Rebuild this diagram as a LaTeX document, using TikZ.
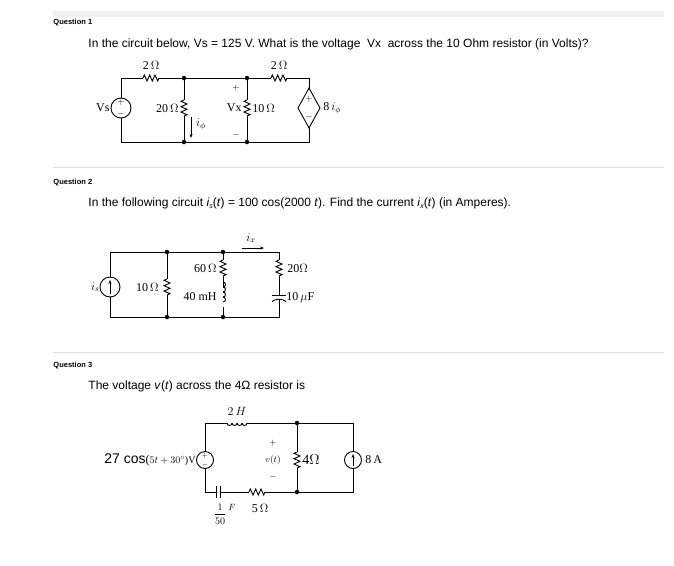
\documentclass[tikz,border=0pt]{standalone}
\usepackage{fontspec}
\setmainfont{Liberation Serif}
\newfontfamily\arial{Liberation Sans}
\usetikzlibrary{arrows.meta}
\begin{document}
\begin{tikzpicture}[x=1pt,y=-1pt,line width=0.9pt,
  rh/.pic={\draw (-8,0)--(-6.7,-3)--(-4,3)--(-1.3,-3)--(1.3,3)--(4,-3)--(6.7,3)--(8,0);},
  rv/.pic={\draw (0,-8)--(-3,-6.7)--(3,-4)--(-3,-1.3)--(3,1.3)--(-3,4)--(3,6.7)--(0,8);},
  dot/.style={circle,fill,inner sep=0pt,minimum size=4.5pt},
  lab/.style={font=\fontsize{12}{14}\selectfont,inner sep=1pt},
  sm/.style={font=\fontsize{9}{10}\selectfont,inner sep=0pt},
  qh/.style={font=\arial\bfseries\fontsize{7.5}{8}\selectfont,anchor=west,inner sep=0pt},
  qt/.style={font=\arial\fontsize{12}{14}\selectfont,anchor=west,inner sep=0pt},
  sep/.style={draw=black!12,line width=1pt}]
\useasboundingbox (0,0) rectangle (674,565);
\fill[black!6] (53,11) rectangle (664,17);
\node[qh] (h1) at (53,23) {Question 1};
\node[qt] (t1) at (88,44) {In the circuit below, Vs = 125 V. What is the voltage\ \ Vx\ \ across the 10 Ohm resistor (in Volts)?};
% Q1 circuit
\draw (121,98)--(121,78)--(143,78);
\pic at (151,78){rh};
\draw (159,78)--(271,78); \pic at (279,78){rh}; \draw (287,78)--(309,78)--(309,88);
\draw (121,118)--(121,142)--(309,142)--(309,128);
\draw (121,108) circle (10);
\node[sm] at (121,102) {$+$}; \node[sm] at (121,114) {$-$};
\draw (184,78)--(184,100); \pic at (184,108){rv}; \draw (184,116)--(184,142);
\draw (247,78)--(247,100); \pic at (247,108){rv}; \draw (247,116)--(247,142);
\draw (309,88)--(320,108)--(309,128)--(298,108)--cycle;
\node[sm] at (309,99) {$+$}; \node[sm] at (309,117) {$-$};
\foreach \p in {(184,78),(247,78),(184,142),(247,142)} \node[dot] at \p {};
\node[lab] at (151,65) {2\,$\Omega$}; \node[lab] at (279,65) {2\,$\Omega$};
\node[lab,anchor=east] at (111,108) {Vs};
\node[lab,anchor=east] at (180,108) {20\,$\Omega$};
\draw[line width=0.6pt,-{Stealth[length=4pt]}] (191,117)--(191,138);
\node[lab] at (201,124) {$i_\phi$};
\node[lab,anchor=east] at (243,108) {Vx};
\node[lab,anchor=west] at (251,108) {10\,$\Omega$};
\node[sm] at (236,88) {$+$}; \node[sm] at (236,135) {$-$};
\node[lab,anchor=west] at (322,108) {8\,$i_\phi$};
% Q2
\draw[sep] (53,167)--(664,167);
\node[qh] (h2) at (53,183) {Question 2};
\node[qt] (t2) at (88,203) {In the following circuit \textit{i}\raisebox{-2pt}{\fontsize{7}{8}\selectfont\textit{s}}(\textit{t}) = 100 cos(2000 \textit{t}). Find the current \textit{i}\raisebox{-2pt}{\fontsize{7}{8}\selectfont\textit{x}}(\textit{t}) (in Amperes).};
\draw (110,277)--(110,252)--(279,252)--(279,260);
\draw (110,297)--(110,317)--(279,317)--(279,299);
\draw (110,287) circle (10);
\draw[line width=0.7pt,-{Stealth[length=4pt]}] (110,294)--(110,280);
\draw (167,252)--(167,279); \pic at (167,287){rv}; \draw (167,295)--(167,317);
\draw (223,252)--(223,260); \pic at (223,268){rv}; \draw (223,276)--(223,287);
\foreach \k in {0,1,2,3} \draw (223,287+5*\k) arc (90:-90:2.5);
\draw (223,307)--(223,317);
\pic at (279,268){rv}; \draw (279,276)--(279,295);
\draw (272,295)--(286,295);
\draw (272,301.5) .. controls (276,298.5) and (282,298.5) .. (286,301.5);
\foreach \p in {(167,252),(223,252),(167,317),(223,317)} \node[dot] at \p {};
\node[lab,anchor=east] at (101,287) {$i_s$};
\node[lab,anchor=east] at (160,287) {10\,$\Omega$};
\node[lab,anchor=east] at (218,268) {60\,$\Omega$};
\node[lab,anchor=east] at (218,297) {40 mH};
\node[lab,anchor=west] at (286,268) {20$\Omega$};
\node[lab,anchor=west] at (285,298) {10\,$\mu$F};
\node[lab] at (251,238) {$i_x$};
\draw[line width=0.6pt,-{Stealth[length=4pt]}] (242,248)--(264,248);
% Q3
\draw[sep] (53,352)--(664,352);
\node[qh] (h3) at (53,366) {Question 3};
\node[qt] (t3) at (88,386) {The voltage \textit{v}(\textit{t}) across the 4Ω resistor is};
\draw (205,451.5)--(205,423)--(227,423);
\foreach \k in {0,1,2,3} \draw (227+5*\k,423) arc (180:0:2.5);
\draw (247,423)--(353,423)--(353,451.5);
\draw (205,468.5)--(205,492)--(216,492);
\draw (216,486)--(216,498); \draw (220,486)--(220,498);
\draw (220,492)--(249,492); \pic at (257,492){rh}; \draw (265,492)--(353,492)--(353,468.5);
\draw (205,460) circle (8.5);
\node[font=\fontsize{7}{8}\selectfont,inner sep=0pt] at (205,456) {$+$}; \node[font=\fontsize{7}{8}\selectfont,inner sep=0pt] at (205,465) {$-$};
\draw (297,423)--(297,452); \pic at (297,460){rv}; \draw (297,468)--(297,492);
\draw (353,460) circle (8.5);
\draw[line width=0.7pt,-{Stealth[length=4pt]}] (353,466)--(353,454);
\foreach \p in {(297,423),(297,492)} \node[dot] at \p {};
\node[lab] at (237,411) {$2\,H$};
\node[lab,anchor=west] at (301,460) {\fontsize{14}{16}\selectfont 4$\Omega$};
\node[lab,anchor=west] at (364,460) {8\,A};
\node[sm] at (273,443) {$+$};
\node[sm] at (273,460) {$v(t)$};
\node[sm] at (273,477) {$-$};
\node[lab] at (260,508) {5\,$\Omega$};
\node[font=\fontsize{10}{11}\selectfont,inner sep=0pt] at (220,514) {$\displaystyle\frac{1}{50}$};
\node[sm] at (232,507) {$F$};
\node[lab,anchor=east] at (197,460) {{\arial\fontsize{14}{16}\selectfont 27 cos}(\fontsize{10}{12}\selectfont$5t+30^\circ$)V};
\end{tikzpicture}
\end{document}
